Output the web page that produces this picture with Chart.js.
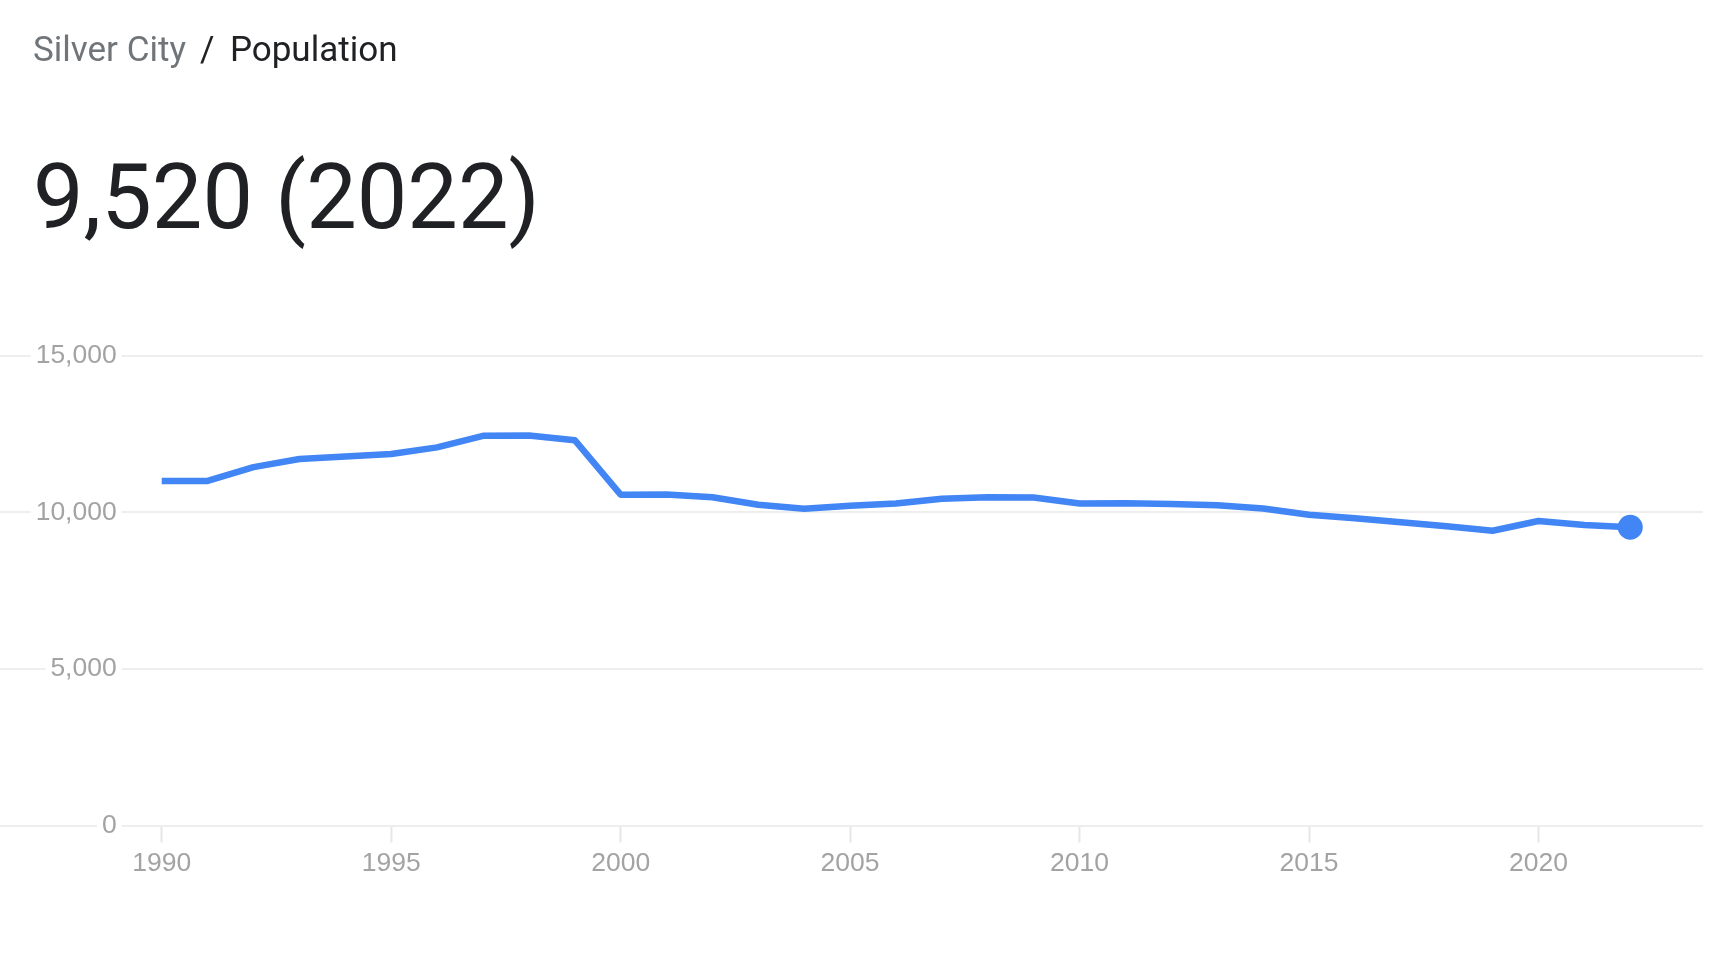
<!DOCTYPE html>
<html>
<head>
<meta charset="utf-8">
<script src="https://cdn.jsdelivr.net/npm/chart.js@4.4.1/dist/chart.umd.min.js"></script>
<style>
  html, body { margin: 0; padding: 0; background: #ffffff; }
  body { width: 1721px; height: 963px; position: relative; overflow: hidden; }
  #crumb { position: absolute; left: 33px; top: 31.5px; font-family: Roboto, sans-serif; font-size: 35px; line-height: 1; color: #202124; white-space: nowrap; }
  #crumb .place { color: #70757a; }
  #crumb .sep { display: inline-block; margin: 0 15.5px 0 14px; }
  #headline { position: absolute; left: 33px; top: 152.8px; font-family: Roboto, sans-serif; font-size: 90px; line-height: 1; color: #202124; white-space: nowrap; }
  #wrap { position: absolute; left: 0; top: 0; width: 1721px; height: 963px; }
</style>
</head>
<body>
<div id="wrap"><canvas id="chart"></canvas></div>
<div id="crumb"><span class="place">Silver City</span><span class="sep">/</span><span>Population</span></div>
<div id="headline">9,520 (2022)</div>
<script>
// ---- data ----
const years = [1990, 1991, 1992, 1993, 1994, 1995, 1996, 1997, 1998, 1999,
               2000, 2001, 2002, 2003, 2004, 2005, 2006, 2007, 2008, 2009,
               2010, 2011, 2012, 2013, 2014, 2015, 2016, 2017, 2018, 2019,
               2020, 2021, 2022];
const population = [11000, 11000, 11440, 11700, 11780, 11860, 12070, 12440, 12450, 12300,
                    10560, 10565, 10480, 10240, 10110, 10210, 10280, 10430, 10480, 10470,
                    10280, 10290, 10260, 10220, 10120, 9920, 9810, 9680, 9550, 9410,
                    9720, 9590, 9520];
const xTickYears = [1990, 1995, 2000, 2005, 2010, 2015, 2020];
const yTickValues = [0, 5000, 10000, 15000];

// ---- styling ----
const LINE_BLUE = '#4285f4';
const AXIS_GREY = '#a3a3a3';
const GRID_GREY = '#eeeeee';
const TICK_FONT_SIZE = 26.5;
const TICK_FONT_FAMILY = "'Liberation Sans', Arial, sans-serif";

function fmt(v) { return Number(v).toLocaleString('en-US'); }

// measure widest y label so the mirrored labels end at the right place
const mctx = document.createElement('canvas').getContext('2d');
mctx.font = TICK_FONT_SIZE + 'px ' + TICK_FONT_FAMILY;
const widestY = Math.max.apply(null, yTickValues.map(v => mctx.measureText(fmt(v)).width));
const yLabelRight = 116.7;

const points = years.map((yr, i) => ({ x: yr, y: population[i] }));
const lastIndex = points.length - 1;

new Chart(document.getElementById('chart'), {
  type: 'line',
  data: {
    datasets: [{
      data: points,
      borderColor: LINE_BLUE,
      backgroundColor: LINE_BLUE,
      borderWidth: 6.5,
      tension: 0,
      fill: false,
      borderJoinStyle: 'round',
      borderCapStyle: 'butt',
      pointRadius: ctx => ctx.dataIndex === lastIndex ? 12.5 : 0,
      pointHoverRadius: ctx => ctx.dataIndex === lastIndex ? 12.5 : 0,
      pointBorderWidth: 0,
      pointBackgroundColor: LINE_BLUE
    }]
  },
  options: {
    responsive: true,
    maintainAspectRatio: false,
    animation: false,
    events: [],
    layout: { autoPadding: false, padding: { left: 0, right: 18, top: 355.6, bottom: 78.7 } },
    plugins: { legend: { display: false }, tooltip: { enabled: false }, title: { display: false } },
    scales: {
      x: {
        type: 'linear',
        min: 1986.476,
        max: 2023.585,
        afterBuildTicks: scale => { scale.ticks = xTickYears.map(v => ({ value: v })); },
        ticks: {
          color: AXIS_GREY,
          font: { size: TICK_FONT_SIZE, family: TICK_FONT_FAMILY },
          padding: 5,
          maxRotation: 0,
          autoSkip: false,
          callback: v => String(v)
        },
        grid: {
          display: true,
          drawOnChartArea: false,
          drawTicks: true,
          tickLength: 17,
          tickWidth: 2,
          tickColor: '#e6e6e6',
          color: '#e6e6e6'
        },
        border: { display: false }
      },
      y: {
        type: 'linear',
        position: 'left',
        min: 0,
        max: 15000,
        afterBuildTicks: scale => { scale.ticks = yTickValues.map(v => ({ value: v })); },
        afterFit: scale => { scale.width = 0; },
        ticks: {
          mirror: true,
          crossAlign: 'far',
          padding: yLabelRight - widestY,
          color: AXIS_GREY,
          font: { size: TICK_FONT_SIZE, family: TICK_FONT_FAMILY },
          showLabelBackdrop: true,
          backdropColor: '#ffffff',
          backdropPadding: { left: 5, right: 5, top: 0, bottom: 0 },
          callback: v => fmt(v)
        },
        grid: {
          color: GRID_GREY,
          lineWidth: 2,
          drawTicks: false
        },
        border: { display: false }
      }
    }
  }
});
</script>
</body>
</html>
